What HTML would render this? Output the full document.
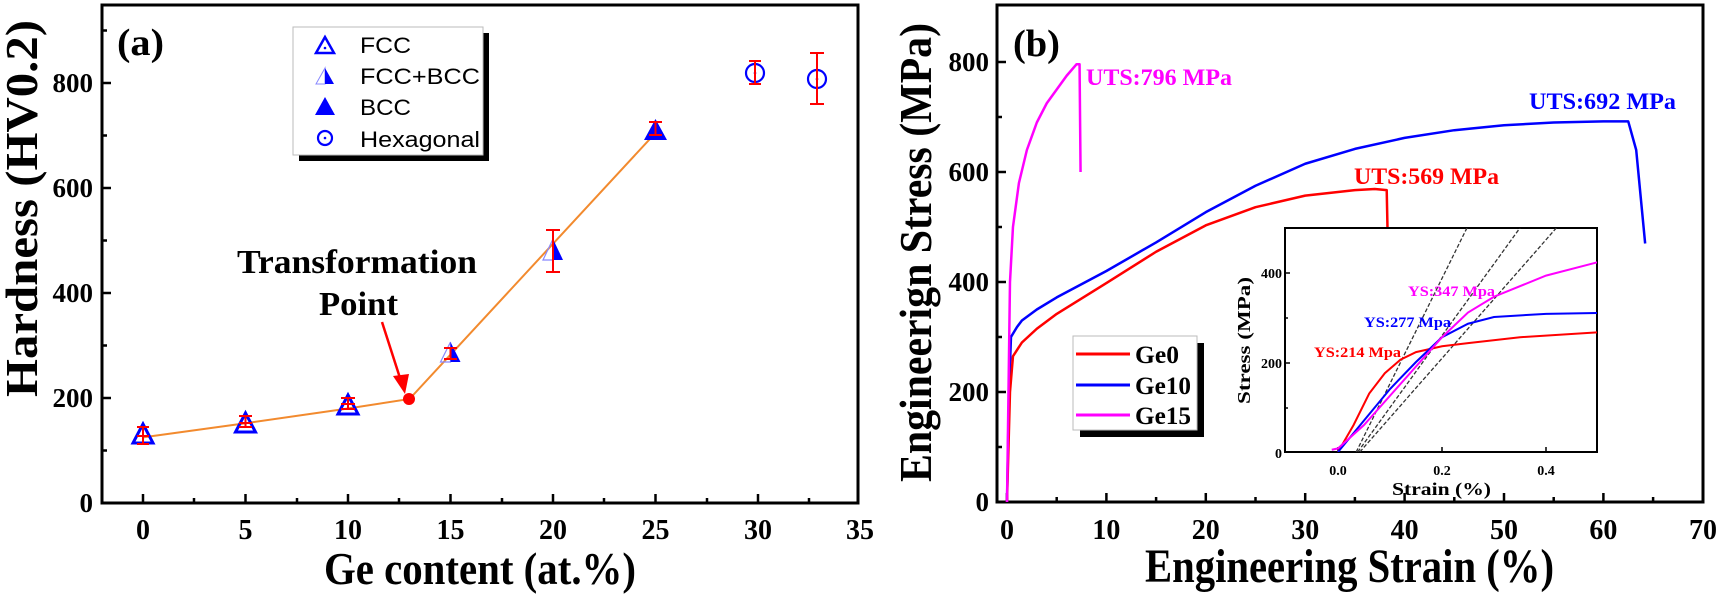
<!DOCTYPE html>
<html><head><meta charset="utf-8"><style>
html,body{margin:0;padding:0;background:#fff;}
svg{display:block;}
.s{font-family:"Liberation Serif",serif;font-weight:bold;}
.a{font-family:"Liberation Sans",sans-serif;}
</style></head><body>
<svg width="1720" height="595" viewBox="0 0 1720 595" xmlns="http://www.w3.org/2000/svg">
<!-- ============ PANEL A ============ -->
<rect x="102" y="5" width="756" height="498" fill="none" stroke="#000" stroke-width="3"/>
<g stroke="#000" stroke-width="2.5">
<line x1="143" y1="503" x2="143" y2="494"/><line x1="245.5" y1="503" x2="245.5" y2="494"/><line x1="348" y1="503" x2="348" y2="494"/><line x1="450.5" y1="503" x2="450.5" y2="494"/><line x1="553" y1="503" x2="553" y2="494"/><line x1="655.5" y1="503" x2="655.5" y2="494"/><line x1="758" y1="503" x2="758" y2="494"/>
<line x1="194" y1="503" x2="194" y2="498"/><line x1="297" y1="503" x2="297" y2="498"/><line x1="399" y1="503" x2="399" y2="498"/><line x1="502" y1="503" x2="502" y2="498"/><line x1="604" y1="503" x2="604" y2="498"/><line x1="707" y1="503" x2="707" y2="498"/><line x1="809" y1="503" x2="809" y2="498"/>
<line x1="102" y1="398" x2="111" y2="398"/><line x1="102" y1="293" x2="111" y2="293"/><line x1="102" y1="188" x2="111" y2="188"/><line x1="102" y1="83" x2="111" y2="83"/>
<line x1="102" y1="450.5" x2="107" y2="450.5"/><line x1="102" y1="345.5" x2="107" y2="345.5"/><line x1="102" y1="240.5" x2="107" y2="240.5"/><line x1="102" y1="135.5" x2="107" y2="135.5"/><line x1="102" y1="30.5" x2="107" y2="30.5"/>
</g>
<g class="s" font-size="28" text-anchor="middle">
<text x="143" y="539">0</text><text x="245.5" y="539">5</text><text x="348" y="539">10</text><text x="450.5" y="539">15</text><text x="553" y="539">20</text><text x="655.5" y="539">25</text><text x="758" y="539">30</text><text x="860" y="539">35</text>
</g>
<g class="s" font-size="27" text-anchor="end">
<text x="93" y="512">0</text><text x="93" y="407">200</text><text x="93" y="302">400</text><text x="93" y="197">600</text><text x="93" y="92">800</text>
</g>
<text class="s" font-size="46" x="324" y="584" textLength="312" lengthAdjust="spacingAndGlyphs">Ge content (at.%)</text>
<text class="s" font-size="46" transform="translate(37,397) rotate(-90)" textLength="377" lengthAdjust="spacingAndGlyphs">Hardness (HV0.2)</text>
<text class="s" font-size="38" x="117" y="55" textLength="47" lengthAdjust="spacingAndGlyphs">(a)</text>
<!-- legend a -->
<rect x="299" y="33" width="190" height="128" fill="#000"/>
<rect x="293" y="27" width="190" height="128" fill="#fff" stroke="#bbb" stroke-width="1"/>
<polygon points="325,37 316,53 334,53" fill="none" stroke="#00f" stroke-width="2.5"/>
<circle cx="325" cy="48" r="1.3" fill="#00f"/>
<polygon points="325,68 316,84 325,84" fill="none" stroke="#88f" stroke-width="1"/>
<polygon points="325,68 334,84 325,84" fill="#00f"/>
<polygon points="325,97 315,115 335,115" fill="#00f"/>
<circle cx="325" cy="138" r="7" fill="none" stroke="#00f" stroke-width="2.2"/>
<circle cx="325" cy="138" r="1.3" fill="#00f"/>
<g class="a" font-size="22">
<text x="360" y="53" textLength="51" lengthAdjust="spacingAndGlyphs">FCC</text>
<text x="360" y="84" textLength="120" lengthAdjust="spacingAndGlyphs">FCC+BCC</text>
<text x="360" y="115" textLength="51" lengthAdjust="spacingAndGlyphs">BCC</text>
<text x="360" y="147" textLength="120" lengthAdjust="spacingAndGlyphs">Hexagonal</text>
</g>
<polyline points="143,437.4 245.5,423.2 348,408.5 409.5,399 655.5,132.9" fill="none" stroke="#f28a2e" stroke-width="2"/>
<g fill="none" stroke="#00f" stroke-width="3">
<polygon points="143,424 133,443 153,443"/>
<polygon points="245.5,413 235.5,432 255.5,432"/>
<polygon points="348,395 338,414 358,414"/>
</g>
<polygon points="450.5,342 440.5,362 450.5,362" fill="none" stroke="#88f" stroke-width="1.2"/>
<polygon points="450.5,342 460.5,362 450.5,362" fill="#00f"/>
<polygon points="553,239 543,260 553,260" fill="none" stroke="#88f" stroke-width="1.2"/>
<polygon points="553,239 563,260 553,260" fill="#00f"/>
<polygon points="655.5,119 644,140 667,140" fill="#00f"/>
<g fill="none" stroke="#00f" stroke-width="2.2"><circle cx="755" cy="73" r="9"/><circle cx="817" cy="79" r="9"/></g>
<circle cx="755" cy="73" r="1.3" fill="#00f"/><circle cx="817" cy="79" r="1.3" fill="#00f"/>
<g stroke="#f00" stroke-width="2" fill="none">
<path d="M143,427V444M137,427H149M137,444H149M137,436H149"/>
<path d="M245.5,416V427M239,416H252M239,427H252M239,423H252"/>
<path d="M348,398V409M341,398H355M341,409H355M341,404H355"/>
<path d="M450.5,348V359M444,348H457M444,359H457"/>
<path d="M553,230V272M546,230H560M546,272H560"/>
<path d="M655.5,122V135M649,122H662M649,135H662"/>
<path d="M755,61V84M749,61H761M749,84H761"/>
<path d="M817,53V104M810,53H824M810,104H824"/>
</g>
<circle cx="409" cy="399" r="6" fill="#f00"/>
<line x1="382" y1="322" x2="400" y2="378" stroke="#f00" stroke-width="2.5"/>
<polygon points="393,376 405,394 409,374" fill="#f00"/>
<g class="s" font-size="34">
<text x="237" y="273" textLength="240" lengthAdjust="spacingAndGlyphs">Transformation</text>
<text x="319" y="315" textLength="79" lengthAdjust="spacingAndGlyphs">Point</text>
</g>

<!-- ============ PANEL B ============ -->
<rect x="997" y="5" width="706" height="497" fill="none" stroke="#000" stroke-width="3"/>
<g stroke="#000" stroke-width="2.5">
<line x1="1007" y1="502" x2="1007" y2="493"/><line x1="1106.4" y1="502" x2="1106.4" y2="493"/><line x1="1205.8" y1="502" x2="1205.8" y2="493"/><line x1="1305.2" y1="502" x2="1305.2" y2="493"/><line x1="1404.6" y1="502" x2="1404.6" y2="493"/><line x1="1504" y1="502" x2="1504" y2="493"/><line x1="1603.4" y1="502" x2="1603.4" y2="493"/>
<line x1="1056.7" y1="502" x2="1056.7" y2="497"/><line x1="1156.1" y1="502" x2="1156.1" y2="497"/><line x1="1255.5" y1="502" x2="1255.5" y2="497"/><line x1="1354.9" y1="502" x2="1354.9" y2="497"/><line x1="1454.3" y1="502" x2="1454.3" y2="497"/><line x1="1553.7" y1="502" x2="1553.7" y2="497"/><line x1="1653.1" y1="502" x2="1653.1" y2="497"/>
<line x1="997" y1="392" x2="1006" y2="392"/><line x1="997" y1="282" x2="1006" y2="282"/><line x1="997" y1="172" x2="1006" y2="172"/><line x1="997" y1="62" x2="1006" y2="62"/>
<line x1="997" y1="447" x2="1002" y2="447"/><line x1="997" y1="337" x2="1002" y2="337"/><line x1="997" y1="227" x2="1002" y2="227"/><line x1="997" y1="117" x2="1002" y2="117"/>
</g>
<g class="s" font-size="28" text-anchor="middle">
<text x="1007" y="539">0</text><text x="1106.4" y="539">10</text><text x="1205.8" y="539">20</text><text x="1305.2" y="539">30</text><text x="1404.6" y="539">40</text><text x="1504" y="539">50</text><text x="1603.4" y="539">60</text><text x="1703" y="539">70</text>
</g>
<g class="s" font-size="27" text-anchor="end">
<text x="989" y="511">0</text><text x="989" y="401">200</text><text x="989" y="291">400</text><text x="989" y="181">600</text><text x="989" y="71">800</text>
</g>
<text class="s" font-size="48" x="1145" y="582" textLength="409" lengthAdjust="spacingAndGlyphs">Engineering Strain (%)</text>
<text class="s" font-size="46" transform="translate(931,482) rotate(-90)" textLength="459" lengthAdjust="spacingAndGlyphs">Engineerign Stress (MPa)</text>
<text class="s" font-size="38" x="1013" y="56" textLength="47" lengthAdjust="spacingAndGlyphs">(b)</text>
<g fill="none" stroke-width="2.5" stroke-linejoin="round">
<g transform="translate(1007,502) scale(9.94,-0.55)">
<polyline vector-effect="non-scaling-stroke" stroke="#00f" points="0,0 0.2,200 0.4,300 1,318 1.5,330 3,350 5,372 10,420 15,472 20,527 25,575 30,615 35,642 40,662 45,676 50,685 55,690 60,692 62.5,692 63.3,640 64.2,470"/>
<polyline vector-effect="non-scaling-stroke" stroke="#f00" points="0,0 0.3,200 0.6,265 1.5,290 3,315 5,342 10,398 15,455 20,503 25,536 30,557 35,567 37,569 38.2,567 38.3,480"/>
<polyline vector-effect="non-scaling-stroke" stroke="#f0f" points="0,0 0.15,200 0.3,400 0.6,500 1.2,580 2,640 3,690 4,725 5,750 6,775 7,796 7.3,796 7.4,600"/>
</g>
</g>
<g class="s" font-size="23">
<text x="1086" y="85" fill="#f0f" textLength="146" lengthAdjust="spacingAndGlyphs">UTS:796 MPa</text>
<text x="1529" y="109" fill="#00f" textLength="147" lengthAdjust="spacingAndGlyphs">UTS:692 MPa</text>
<text x="1354" y="184" fill="#f00" textLength="145" lengthAdjust="spacingAndGlyphs">UTS:569 MPa</text>
</g>
<!-- legend b -->
<rect x="1080" y="343" width="124" height="94" fill="#000"/>
<rect x="1073" y="336" width="124" height="94" fill="#fff" stroke="#bbb" stroke-width="1"/>
<g stroke-width="3"><line x1="1076" y1="354" x2="1130" y2="354" stroke="#f00"/><line x1="1076" y1="385" x2="1130" y2="385" stroke="#00f"/><line x1="1076" y1="415" x2="1130" y2="415" stroke="#f0f"/></g>
<g class="s" font-size="25">
<text x="1135" y="363" textLength="44" lengthAdjust="spacingAndGlyphs">Ge0</text>
<text x="1135" y="394" textLength="56" lengthAdjust="spacingAndGlyphs">Ge10</text>
<text x="1135" y="424" textLength="56" lengthAdjust="spacingAndGlyphs">Ge15</text>
</g>
<!-- inset -->
<rect x="1285" y="228" width="312" height="224" fill="#fff" stroke="#000" stroke-width="2"/>
<g stroke="#000" stroke-width="1.5">
<line x1="1338" y1="452" x2="1338" y2="447"/><line x1="1442" y1="452" x2="1442" y2="447"/><line x1="1546" y1="452" x2="1546" y2="447"/>
<line x1="1285" y1="363" x2="1290" y2="363"/><line x1="1285" y1="273" x2="1290" y2="273"/>
<line x1="1285" y1="408" x2="1288" y2="408"/><line x1="1285" y1="318" x2="1288" y2="318"/>
</g>
<g class="s" font-size="14" text-anchor="middle"><text x="1338" y="475">0.0</text><text x="1442" y="475">0.2</text><text x="1546" y="475">0.4</text></g>
<g class="s" font-size="14" text-anchor="end"><text x="1282" y="458">0</text><text x="1282" y="368">200</text><text x="1282" y="278">400</text></g>
<text class="s" font-size="18" x="1392" y="495" textLength="99" lengthAdjust="spacingAndGlyphs">Strain (%)</text>
<text class="s" font-size="18" transform="translate(1250,404) rotate(-90)" textLength="127" lengthAdjust="spacingAndGlyphs">Stress (MPa)</text>
<svg x="1285" y="228" width="312" height="224" overflow="hidden">
<g transform="translate(53,224) scale(520,-0.45)" fill="none" stroke-width="1.3">
<g stroke="#333" stroke-dasharray="4,2">
<polyline vector-effect="non-scaling-stroke" points="0.035,0 0.248,498"/>
<polyline vector-effect="non-scaling-stroke" points="0.038,0 0.35,498"/>
<polyline vector-effect="non-scaling-stroke" points="0.042,0 0.42,498"/>
</g>
<polyline vector-effect="non-scaling-stroke" stroke="#f00" stroke-width="2" points="0,0 0.03,60 0.06,130 0.09,175 0.12,205 0.15,222 0.2,235 0.25,242 0.35,255 0.5,266"/>
<polyline vector-effect="non-scaling-stroke" stroke="#00f" stroke-width="2" points="0,0 0.05,70 0.1,140 0.15,200 0.2,255 0.25,285 0.3,300 0.4,307 0.5,309"/>
<polyline vector-effect="non-scaling-stroke" stroke="#f0f" stroke-width="2" points="-0.012,5 0,8 0.05,60 0.1,125 0.15,190 0.2,255 0.25,310 0.3,345 0.4,392 0.5,422"/>
</g>
</svg>
<g class="s" font-size="15">
<text x="1408" y="296" fill="#f0f" textLength="87" lengthAdjust="spacingAndGlyphs">YS:347 Mpa</text>
<text x="1364" y="327" fill="#00f" textLength="87" lengthAdjust="spacingAndGlyphs">YS:277 Mpa</text>
<text x="1314" y="357" fill="#f00" textLength="87" lengthAdjust="spacingAndGlyphs">YS:214 Mpa</text>
</g>
</svg>
</body></html>
